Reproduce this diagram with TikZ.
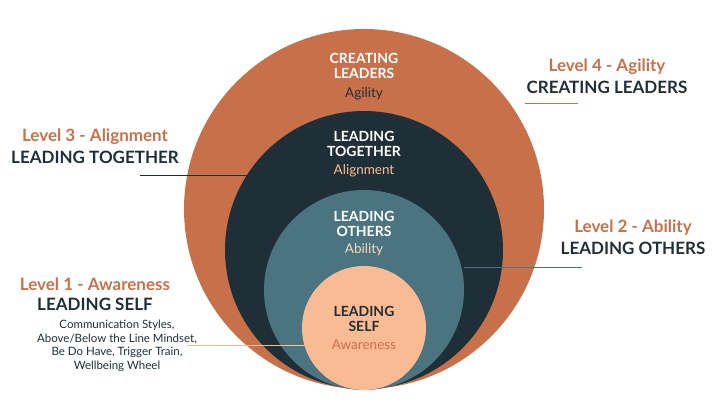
\documentclass[tikz,border=0pt]{standalone}
\usepackage{fontspec}
\setmainfont{Lato}
\definecolor{corange}{HTML}{C8704A}
\definecolor{cdark}{HTML}{1F2F38}
\definecolor{cteal}{HTML}{4A7580}
\definecolor{cpeach}{HTML}{F9BB93}
\begin{document}
\begin{tikzpicture}[x=1pt,y=-1pt,
  lvl/.style={font=\fontsize{17}{19}\selectfont\bfseries, text=corange, inner sep=0},
  ttl/.style={font=\fontsize{17}{19}\selectfont\bfseries, text=cdark, inner sep=0},
  inl/.style={font=\fontsize{14}{17}\selectfont\bfseries, align=center, inner sep=0},
  sub/.style={font=\fontsize{13.5}{15}\selectfont, inner sep=0}]
\useasboundingbox (0,0) rectangle (720,405);
\fill[corange] (364,209) circle (180);
\fill[cdark] (364,250) circle (139);
\fill[cteal] (364,290) circle (100);
\fill[cpeach] (364,328) circle (62);
% inner labels
\node[inl,text=white] (t4) at (364,66) {CREATING\\[-2pt]LEADERS};
\node[sub,text=cdark] (s4) at (364,94) {Agility};
\node[inl,text=white] (t3) at (364,144) {LEADING\\[-2pt]TOGETHER};
\node[sub,text=cpeach] (s3) at (364,171) {Alignment};
\node[inl,text=white] (t2) at (364,224) {LEADING\\[-2pt]OTHERS};
\node[sub,text=cpeach!60!white] (s2) at (364,250) {Ability};
\node[inl,text=cdark] (t1) at (364,319) {LEADING\\[-2pt]SELF};
\node[sub,text=corange] (s1) at (364,345) {Awareness};
% level 4
\node[lvl] (l4) at (607,67) {Level 4 - Agility};
\node[ttl] (n4) at (607,87) {CREATING LEADERS};
\coordinate (a4) at (525,103); \coordinate (b4) at (578,103);
\draw[corange,line width=1pt] (a4) -- (b4);
% level 3
\node[lvl] (l3) at (95,137) {Level 3 - Alignment};
\node[ttl] (n3) at (95,157) {LEADING TOGETHER};
\coordinate (a3) at (140,175); \coordinate (b3) at (276,175);
\draw[cdark,line width=1pt] (a3) -- (b3);
% level 2
\node[lvl] (l2) at (633,228) {Level 2 - Ability};
\node[ttl] (n2) at (633,248) {LEADING OTHERS};
\coordinate (a2) at (464,267); \coordinate (b2) at (582,267);
\draw[cteal,line width=1pt] (a2) -- (b2);
% level 1
\node[lvl] (l1) at (95,284) {Level 1 - Awareness};
\node[ttl] (n1) at (95,304) {LEADING SELF};
\node[font=\fontsize{11.5}{13.5}\selectfont, text=cdark, align=center, inner sep=0] (d1) at (117,346) {Communication Styles,\\Above/Below the Line Mindset,\\Be Do Have, Trigger Train,\\Wellbeing Wheel};
\coordinate (a1) at (187,345); \coordinate (b1) at (305,345);
\draw[cpeach,line width=1pt] (a1) -- (b1);
\end{tikzpicture}
\end{document}
